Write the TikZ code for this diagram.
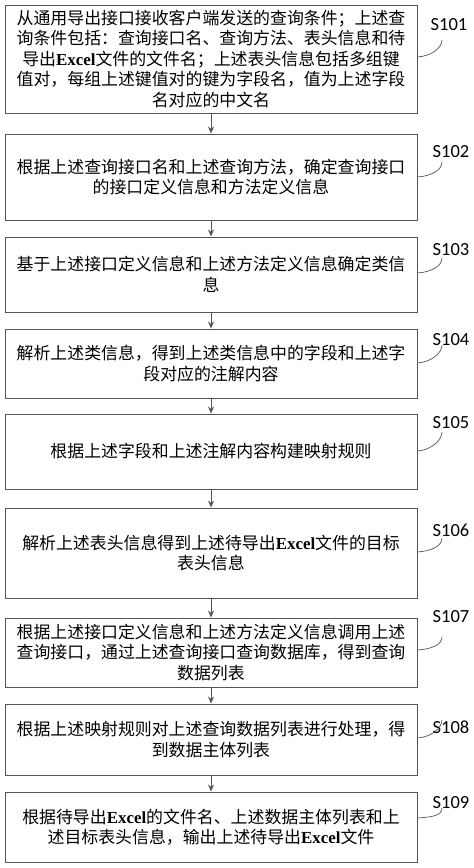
\documentclass[tikz,border=0pt]{standalone}
\usepackage{fontspec}
\setmainfont{Noto Sans CJK SC}
\newfontfamily\latf{Liberation Serif}
\newfontfamily\labf{Carlito}
\usetikzlibrary{arrows.meta,calc}
\newcommand{\xls}{{\latf\bfseries Excel}}
\definecolor{lc}{HTML}{555555}
\begin{document}
\begin{tikzpicture}[x=1pt,y=-1pt,
  box/.style={draw=lc, line width=0.9pt, minimum width=412pt, align=center, inner sep=0pt,
    font=\fontsize{16.9}{20.5}\selectfont},
  arr/.style={draw=lc, line width=0.9pt, -{Stealth[length=7pt,width=6pt]}},
  lab/.style={font=\labf\fontsize{18.5}{20}\selectfont, inner sep=0pt},
  lead/.style={draw=lc, line width=0.7pt}]
\useasboundingbox (0,0) rectangle (474,868);

\node[box, minimum height=108pt] (b1) at (211,59) {从通用导出接口接收客户端发送的查询条件；上述查\\询条件包括：查询接口名、查询方法、表头信息和待\\导出\xls 文件的文件名；上述表头信息包括多组键\\值对，每组上述键值对的键为字段名，值为上述字段\\名对应的中文名};
\node[box, minimum height=86pt] (b2) at (211,177) {根据上述查询接口名和上述查询方法，确定查询接口\\的接口定义信息和方法定义信息};
\node[box, minimum height=75pt] (b3) at (211,274.5) {基于上述接口定义信息和上述方法定义信息确定类信\\息};
\node[box, minimum height=69pt] (b4) at (211,363.5) {解析上述类信息，得到上述类信息中的字段和上述字\\段对应的注解内容};
\node[box, minimum height=75pt] (b5) at (211,451.5) {根据上述字段和上述注解内容构建映射规则};
\node[box, minimum height=90pt] (b6) at (211,553) {解析上述表头信息得到上述待导出\xls 文件的目标\\表头信息};
\node[box, minimum height=69pt] (b7) at (211,652.5) {根据上述接口定义信息和上述方法定义信息调用上述\\查询接口，通过上述查询接口查询数据库，得到查询\\数据列表};
\node[box, minimum height=71pt] (b8) at (211,739.5) {根据上述映射规则对上述查询数据列表进行处理，得\\到数据主体列表};
\node[box, minimum height=70pt] (b9) at (211,827) {根据待导出\xls 的文件名、上述数据主体列表和上\\述目标表头信息，输出上述待导出\xls 文件};

\draw[arr] (b1) -- (b2);
\draw[arr] (b2) -- (b3);
\draw[arr] (b3) -- (b4);
\draw[arr] (b4) -- (b5);
\draw[arr] (b5) -- (b6);
\draw[arr] (b6) -- (b7);
\draw[arr] (b7) -- (b8);
\draw[arr] (b8) -- (b9);

\node[lab] (l1) at (449,25) {S101};
\node[lab] (l2) at (451,152) {S102};
\node[lab] (l3) at (451,250) {S103};
\node[lab] (l4) at (451,340) {S104};
\node[lab] (l5) at (451,423) {S105};
\node[lab] (l6) at (451,530) {S106};
\node[lab] (l7) at (451,617) {S107};
\node[lab] (l8) at (451,727) {S108};
\node[lab] (l9) at (451,803) {S109};

\foreach \i/\ya/\yb in {1/57/40, 2/177/162, 3/273/258, 4/363/345, 5/451/432, 6/552/538, 7/650/637, 8/738/720, 9/818/808}{
  \coordinate (s\i) at (b\i.east |- 0,\ya);
  \coordinate (e\i) at (442,\yb);
  \draw[lead] (s\i) .. controls ($(s\i)+(14,-1)$) and ($(e\i)+(0,8)$) .. (e\i);
}
\end{tikzpicture}
\end{document}
